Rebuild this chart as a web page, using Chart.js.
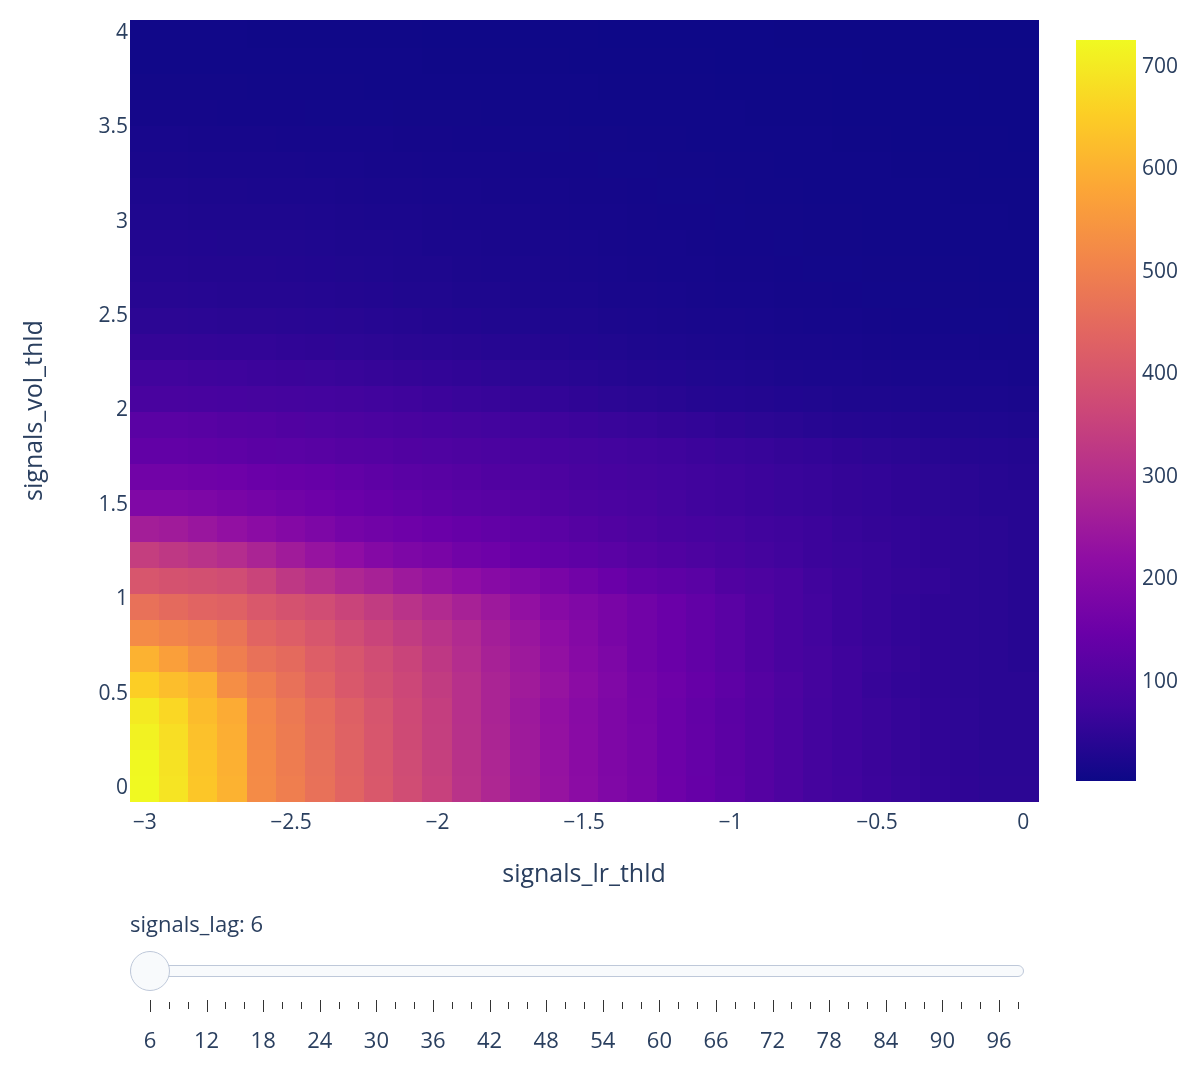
<!DOCTYPE html>
<html>
<head>
<meta charset="utf-8">
<script src="https://cdn.jsdelivr.net/npm/chart.js@4.4.0/dist/chart.umd.min.js"></script>
<style>
  body { margin: 0; background: #fff; font-family: "Open Sans", sans-serif; color: #2a3f5f; }
  #wrap { position: relative; width: 1200px; height: 1088px; }
  #heat { position: absolute; left: 0; top: 0; }
  #sliderLabel { position: absolute; left: 130px; top: 908px; font-size: 22px; }
  #track { position: absolute; left: 130px; top: 965px; width: 892px; height: 10px; border: 1px solid #bec8d9; border-radius: 6px; background: #f8fafc; }
  #knob { position: absolute; left: 130px; top: 951px; width: 38px; height: 38px; border: 1px solid #bec8d9; border-radius: 50%; background: #f8fafc; }
  .tick { position: absolute; width: 1px; background: #333; }
  .tlab { position: absolute; top: 1024px; width: 60px; margin-left: -30px; text-align: center; font-size: 22px; }
</style>
</head>
<body>
<div id="wrap">
  <canvas id="heat" width="1200" height="1088"></canvas>
  <div id="sliderLabel">signals_lag: 6</div>
  <div id="track"></div>
  <div id="knob"></div>
</div>
<script>
// heatmap axes
const xValues = [-3.0,-2.9,-2.8,-2.7,-2.6,-2.5,-2.4,-2.3,-2.2,-2.1,-2.0,-1.9,-1.8,-1.7,-1.6,-1.5,-1.4,-1.3,-1.2,-1.1,-1.0,-0.9,-0.8,-0.7,-0.6,-0.5,-0.4,-0.3,-0.2,-0.1,0.0];
const yValues = [0,0.138,0.276,0.414,0.552,0.69,0.828,0.966,1.103,1.241,1.379,1.517,1.655,1.793,1.931,2.069,2.207,2.345,2.483,2.621,2.759,2.897,3.034,3.172,3.31,3.448,3.586,3.724,3.862,4.0];

// z values, one row per yValue (bottom to top)
const zRows = [
  [726,690,639,603,524,495,466,437,408,379,350,314,285,256,234,213,191,177,155,140,126,111,97,83,75,68,61,54,50,46,46],
  [724,688,636,600,522,492,463,434,405,376,347,312,283,254,232,211,189,175,153,138,124,110,96,82,74,67,60,53,49,45,45],
  [715,680,630,596,518,489,460,431,402,373,344,309,280,252,230,209,187,173,152,137,123,109,95,81,73,66,59,52,48,44,44],
  [700,668,622,590,514,485,456,428,399,370,342,307,278,250,228,207,186,172,151,136,122,108,94,80,72,65,58,52,48,44,43],
  [654,625,603,531,495,466,437,408,386,365,336,307,278,256,234,213,191,169,155,140,126,111,97,83,72,61,54,50,46,43,43],
  [603,567,531,495,466,451,422,401,379,357,328,299,271,249,227,205,184,162,148,133,119,104,90,83,72,64,57,50,46,43,39],
  [524,509,495,473,437,422,401,379,357,336,314,292,263,242,220,198,177,162,148,133,119,104,90,79,68,61,54,50,46,43,39],
  [466,451,437,430,408,393,379,357,336,314,292,271,249,227,205,191,177,162,148,133,119,104,90,79,68,61,54,50,46,43,39],
  [401,393,386,379,357,328,307,285,271,249,234,220,205,191,177,162,148,133,126,119,104,97,90,75,68,61,57,54,46,43,39],
  [343,328,314,299,278,256,234,220,198,184,177,162,155,140,133,126,119,111,104,97,90,83,75,68,64,61,54,50,46,43,39],
  [263,256,242,227,213,198,184,169,162,155,148,140,133,126,119,111,104,97,90,86,83,75,72,68,61,57,54,50,46,43,39],
  [191,191,184,177,169,162,155,148,140,133,126,119,115,111,104,97,93,90,83,75,72,68,64,61,57,54,50,46,43,39,39],
  [162,162,158,155,148,144,140,133,126,119,115,111,104,100,97,90,86,83,79,75,72,68,64,61,57,54,50,46,43,39,37],
  [133,133,130,126,122,119,115,111,108,104,100,97,93,90,86,83,79,75,72,68,64,61,57,54,50,46,43,39,37,35,33],
  [119,119,115,111,108,104,100,97,93,90,86,83,79,75,72,68,64,61,57,54,50,46,43,39,37,35,33,31,29,28,27],
  [90,90,88,86,84,82,80,78,75,72,68,64,61,57,54,50,46,43,40,37,35,33,31,29,27,26,25,24,23,22,21],
  [75,75,73,71,69,67,65,63,60,57,54,51,48,45,42,39,36,34,32,30,28,26,24,23,22,21,20,19,18,18,17],
  [57,57,56,55,54,52,50,48,46,44,42,40,38,36,33,31,29,27,25,24,22,21,20,19,18,17,16,15,15,14,14],
  [46,46,45,44,43,42,41,40,38,36,34,32,30,28,27,26,24,22,21,20,19,18,17,16,15,14,13,13,12,12,11],
  [39,39,38,37,37,36,35,34,32,30,29,27,26,24,23,22,20,19,18,17,16,15,14,14,13,12,12,11,11,10,10],
  [35,35,34,33,33,32,31,30,28,27,26,24,23,22,21,19,18,17,16,15,14,14,13,12,12,11,11,10,10,9,9],
  [32,32,31,30,30,29,28,27,26,25,23,22,21,20,19,18,17,16,15,14,13,13,12,11,11,10,10,9,9,8,8],
  [28,28,27,27,26,26,25,24,23,22,21,20,19,18,17,16,15,14,13,13,12,11,11,10,10,9,9,8,8,8,7],
  [25,25,24,24,23,23,22,21,20,19,18,18,17,16,15,14,14,13,12,12,11,10,10,9,9,8,8,8,7,7,7],
  [21,21,20,20,19,19,18,18,17,17,16,15,15,14,13,13,12,12,11,11,10,10,9,9,8,8,7,7,7,6,6],
  [18,18,17,17,17,16,16,15,15,14,14,13,13,12,12,11,11,10,10,9,9,8,8,8,7,7,6,6,6,6,5],
  [14,14,14,13,13,13,12,12,12,11,11,11,10,10,10,9,9,9,8,8,8,7,7,7,6,6,6,5,5,5,5],
  [11,11,11,11,10,10,10,10,9,9,9,9,8,8,8,8,7,7,7,7,6,6,6,6,5,5,5,5,5,4,4],
  [9,9,9,9,9,8,8,8,8,8,7,7,7,7,7,6,6,6,6,6,5,5,5,5,5,4,4,4,4,4,4],
  [8,8,8,8,7,7,7,7,7,7,6,6,6,6,6,6,5,5,5,5,5,5,4,4,4,4,4,4,3,3,3]
];

const zMin = 3, zMax = 726;
const colorbarTicks = [100, 200, 300, 400, 500, 600, 700];
const lagValues = [6,8,10,12,14,16,18,20,22,24,26,28,30,32,34,36,38,40,42,44,46,48,50,52,54,56,58,60,62,64,66,68,70,72,74,76,78,80,82,84,86,88,90,92,94,96,98];
const lagLabels = [6,12,18,24,30,36,42,48,54,60,66,72,78,84,90,96];

const plasma = ['#0d0887','#41049d','#6a00a8','#8f0da4','#b12a90','#cc4778','#e16462','#f2844b','#fca636','#fcce25','#f0f921'];

function hexRgb(h) {
  return [parseInt(h.slice(1,3),16), parseInt(h.slice(3,5),16), parseInt(h.slice(5,7),16)];
}
function colorFor(v) {
  let t = Math.max(0, Math.min(1, (v - zMin) / (zMax - zMin))) * (plasma.length - 1);
  const i = Math.min(Math.floor(t), plasma.length - 2), f = t - i;
  const a = hexRgb(plasma[i]), b = hexRgb(plasma[i + 1]);
  return 'rgb(' + a.map((c, k) => Math.round(c + (b[k] - c) * f)).join(',') + ')';
}

const cells = [];
zRows.forEach((row, j) => row.forEach((v, i) => cells.push({ x: xValues[i], y: yValues[j], v: v })));

const dx = 0.1, dy = 4 / 29;
const font = { family: '"Open Sans", sans-serif', size: 21 };

// draws cells and the colorbar through the chart scales
const heatPlugin = {
  id: 'heat',
  beforeDatasetsDraw(chart) {
    const { ctx, scales: { x, y } } = chart;
    ctx.save();
    cells.forEach(c => {
      const x0 = x.getPixelForValue(c.x - dx / 2), x1 = x.getPixelForValue(c.x + dx / 2);
      const y0 = y.getPixelForValue(c.y + dy / 2), y1 = y.getPixelForValue(c.y - dy / 2);
      ctx.fillStyle = colorFor(c.v);
      ctx.fillRect(Math.floor(x0), Math.floor(y0), Math.ceil(x1 - x0) + 1, Math.ceil(y1 - y0) + 1);
    });
    // colorbar
    const cbL = 1076, cbW = 60, cbT = 40, cbB = 781;
    const g = ctx.createLinearGradient(0, cbB, 0, cbT);
    plasma.forEach((c, i) => g.addColorStop(i / (plasma.length - 1), c));
    ctx.fillStyle = g;
    ctx.fillRect(cbL, cbT, cbW, cbB - cbT);
    ctx.fillStyle = '#2a3f5f';
    ctx.font = '21px "Open Sans", sans-serif';
    ctx.textBaseline = 'middle';
    ctx.textAlign = 'left';
    colorbarTicks.forEach(t => {
      const py = cbB - (t - zMin) / (zMax - zMin) * (cbB - cbT);
      ctx.fillText(String(t), cbL + cbW + 6, py);
    });
    ctx.restore();
  }
};

new Chart(document.getElementById('heat'), {
  type: 'scatter',
  data: { datasets: [{ data: cells, pointRadius: 0, pointHoverRadius: 0 }] },
  options: {
    responsive: false,
    animation: false,
    layout: { padding: { left: 0, top: 20, right: 162, bottom: 194 } },
    plugins: { legend: { display: false }, tooltip: { enabled: false } },
    scales: {
      x: {
        min: -3 - dx / 2, max: dx / 2,
        grid: { display: false },
        border: { display: false },
        afterFit: s => { s.height = 93; },
        afterBuildTicks: s => { s.ticks = [-3, -2.5, -2, -1.5, -1, -0.5, 0].map(v => ({ value: v })); },
        ticks: { color: '#2a3f5f', font: font, padding: 1, maxRotation: 0,
          callback: v => String(v).replace('-', '\u2212') },
        title: { display: true, text: 'signals_lr_thld', color: '#2a3f5f',
          font: { family: '"Open Sans", sans-serif', size: 25 }, padding: { top: 13 } }
      },
      y: {
        min: -dy / 2, max: 4 + dy / 2,
        grid: { display: false },
        border: { display: false },
        afterFit: s => { s.width = 130; },
        afterBuildTicks: s => { s.ticks = [0, 0.5, 1, 1.5, 2, 2.5, 3, 3.5, 4].map(v => ({ value: v })); },
        ticks: { color: '#2a3f5f', font: font, padding: -6, callback: v => String(v) },
        title: { display: true, text: 'signals_vol_thld', color: '#2a3f5f',
          font: { family: '"Open Sans", sans-serif', size: 25 }, padding: { top: 20, bottom: 20 } }
      }
    }
  },
  plugins: [heatPlugin]
});

// slider ticks
const wrap = document.getElementById('wrap');
const sx = v => 150 + (v - 6) * (999 - 150) / 90;
lagValues.forEach(v => {
  const major = lagLabels.includes(v);
  const t = document.createElement('div');
  t.className = 'tick';
  t.style.left = sx(v) + 'px';
  t.style.top = (major ? 1000 : 1002) + 'px';
  t.style.height = (major ? 12 : 7) + 'px';
  wrap.appendChild(t);
});
lagLabels.forEach(v => {
  const l = document.createElement('div');
  l.className = 'tlab';
  l.style.left = sx(v) + 'px';
  l.textContent = v;
  wrap.appendChild(l);
});
</script>
</body>
</html>
